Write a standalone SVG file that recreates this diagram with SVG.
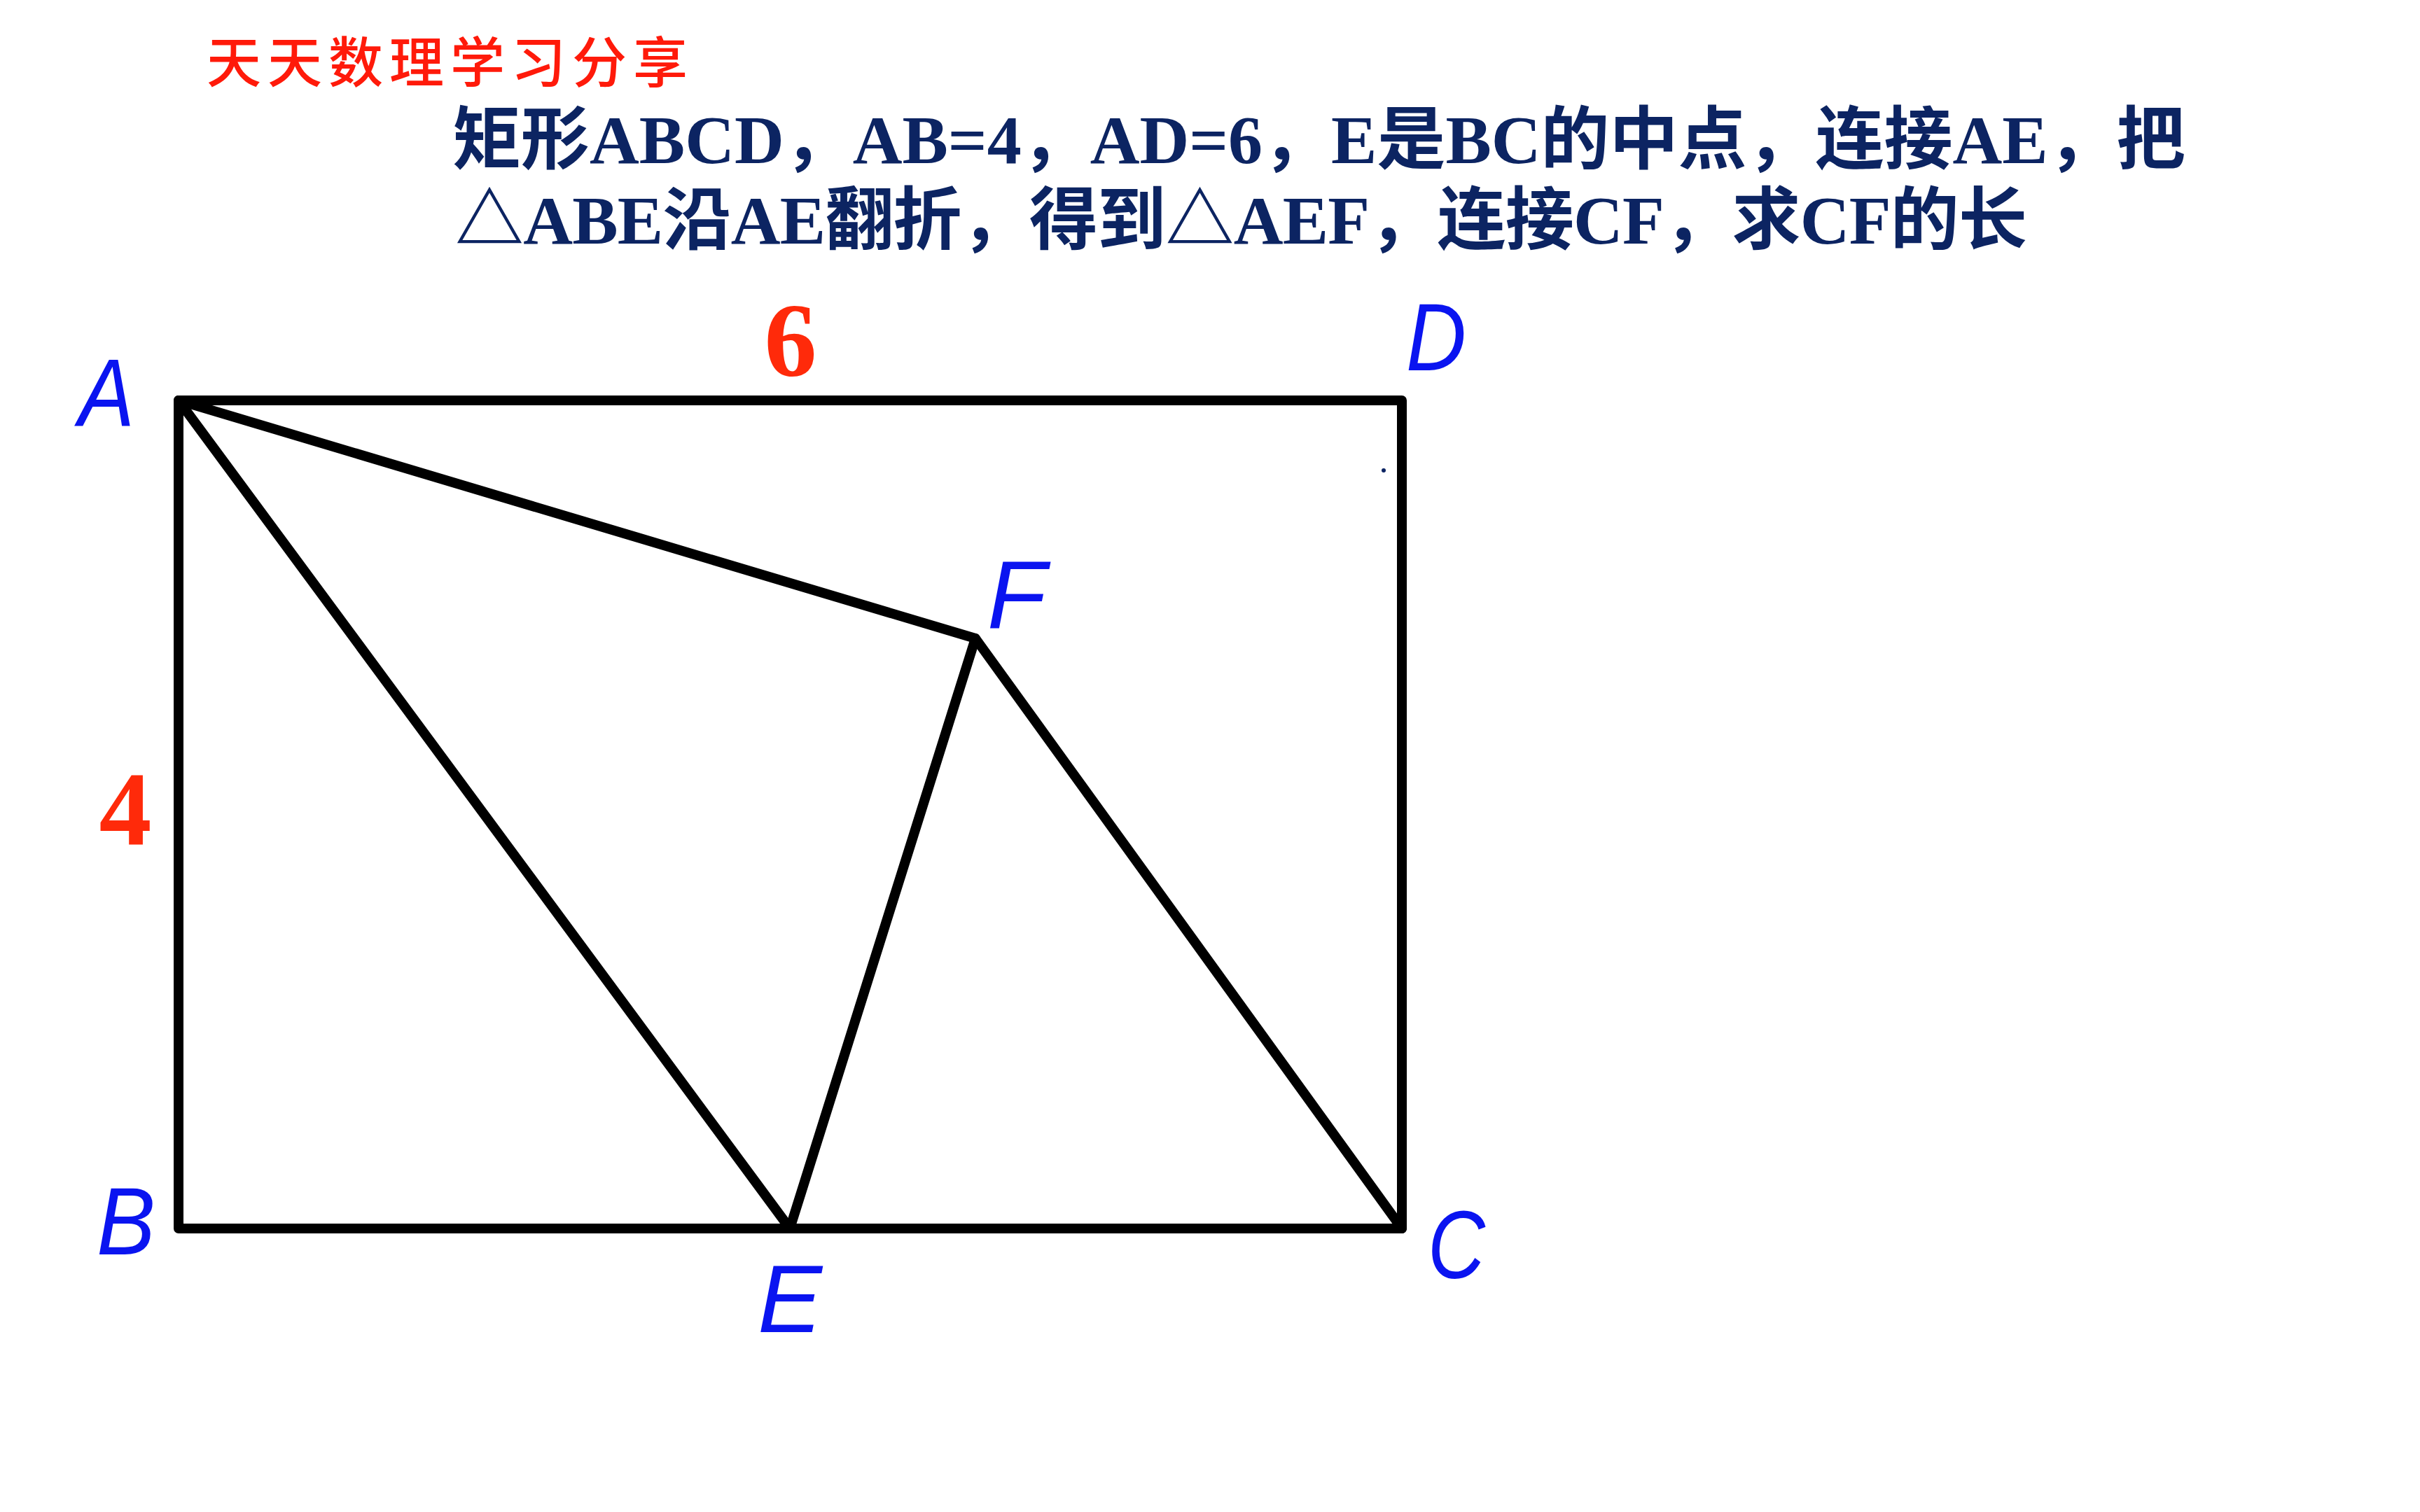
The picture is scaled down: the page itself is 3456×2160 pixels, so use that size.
<svg xmlns="http://www.w3.org/2000/svg" width="3456" height="2160" viewBox="0 0 3456 2160">
<style>
.edge{fill:none;stroke:#000;stroke-width:14;stroke-linejoin:round;stroke-linecap:round}
.pt{font-family:"Liberation Sans",Arial,sans-serif;font-style:italic;font-size:138px;fill:#0a14f0;text-anchor:middle}
.num{font-family:"Liberation Serif","Times New Roman",serif;font-weight:bold;font-size:150px;fill:#ff2a0a;text-anchor:middle}
.q{font-family:"Liberation Serif","Noto Sans CJK SC",serif;font-weight:bold;font-size:98px;fill:#0c2462}
.title{font-family:"Noto Sans CJK SC",sans-serif;font-size:78px;font-weight:500;fill:#ff1a0a;letter-spacing:9px}
</style>
<rect width="3456" height="2160" fill="#fff"/>
<g id="title">
<text class="title" x="295" y="118">天天数理学习分享</text>
</g>
<g id="question">
<text class="q" x="646" y="233">矩形ABCD，AB=4，AD=6，E是BC的中点，连接AE，把</text>
<text class="q" x="650" y="348" textLength="2245">△ABE沿AE翻折，得到△AEF，连接CF，求CF的长</text>
</g>
<g id="connectors">
<polygon class="edge" points="255,572 2002,572 2002,1755 255,1755"/>
<line class="edge" x1="255" y1="572" x2="1128" y2="1755"/>
<polyline class="edge" points="255,572 1393,912 1128,1755"/>
<line class="edge" x1="1393" y1="912" x2="2002" y2="1755"/>
</g>
<g id="node-A"><text class="pt" x="152" y="609" textLength="80" lengthAdjust="spacingAndGlyphs">A</text></g>
<g id="node-D"><text class="pt" x="2051" y="529" textLength="86" lengthAdjust="spacingAndGlyphs">D</text></g>
<g id="node-F"><text class="pt" x="1452" y="897">F</text></g>
<g id="node-B"><text class="pt" x="180" y="1792" textLength="84" lengthAdjust="spacingAndGlyphs">B</text></g>
<g id="node-E"><text class="pt" x="1128" y="1903">E</text></g>
<g id="node-C"><text class="pt" x="2080" y="1826" textLength="82" lengthAdjust="spacingAndGlyphs">C</text></g>
<g id="labels">
<text class="num" x="1129" y="537">6</text>
<text class="num" x="179" y="1207">4</text>
</g>
<circle cx="1976" cy="672" r="3" fill="#0c2462"/>
</svg>
